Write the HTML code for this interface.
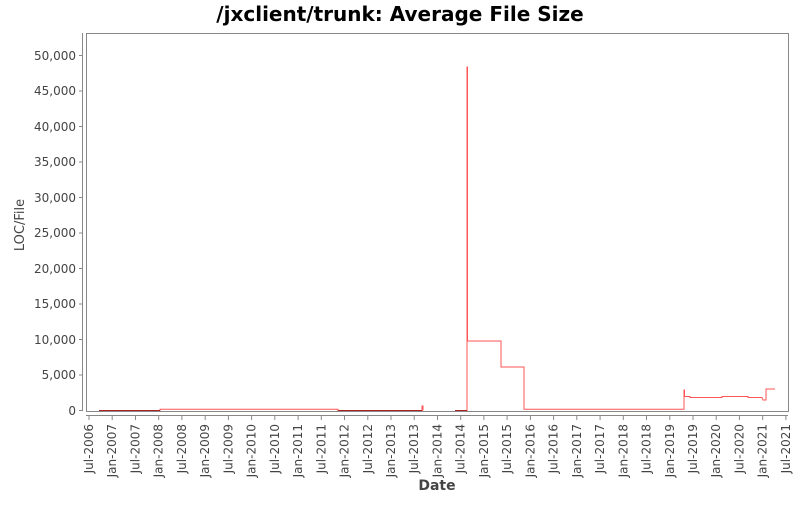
<!DOCTYPE html>
<html><head><style>body{margin:0;background:#fff}</style></head><body>
<svg width="800" height="500" xmlns="http://www.w3.org/2000/svg" font-family="DejaVu Sans, Liberation Sans, sans-serif">
<rect width="800" height="500" fill="#fff"/>
<text x="400" y="21" text-anchor="middle" font-size="20" font-weight="bold" fill="#000">/jxclient/trunk: Average File Size</text>
<rect x="86.5" y="33.5" width="702" height="378" fill="#fff" stroke="#888"/>
<line x1="82.5" y1="33" x2="82.5" y2="411" stroke="#888"/>
<line x1="86" y1="415.5" x2="788" y2="415.5" stroke="#888"/>
<g font-size="12" fill="#444" text-anchor="end">
<text x="76" y="60">50,000</text><text x="76" y="95">45,000</text><text x="76" y="131">40,000</text>
<text x="76" y="166">35,000</text><text x="76" y="202">30,000</text><text x="76" y="237">25,000</text>
<text x="76" y="273">20,000</text><text x="76" y="308">15,000</text><text x="76" y="344">10,000</text>
<text x="76" y="379">5,000</text><text x="76" y="415">0</text>
</g>
<g stroke="#888">
<line x1="79" x2="82" y1="55.5" y2="55.5"/><line x1="79" x2="82" y1="91" y2="91"/><line x1="79" x2="82" y1="126.5" y2="126.5"/>
<line x1="79" x2="82" y1="162" y2="162"/><line x1="79" x2="82" y1="197.5" y2="197.5"/><line x1="79" x2="82" y1="233" y2="233"/>
<line x1="79" x2="82" y1="268.5" y2="268.5"/><line x1="79" x2="82" y1="304" y2="304"/><line x1="79" x2="82" y1="339.5" y2="339.5"/>
<line x1="79" x2="82" y1="375" y2="375"/><line x1="79" x2="82" y1="410.5" y2="410.5"/>
</g>
<text transform="translate(24,225) rotate(-90)" text-anchor="middle" font-size="13" fill="#444">LOC/File</text>
<text x="437" y="490" text-anchor="middle" font-size="14" font-weight="bold" fill="#444">Date</text>
<g stroke="#888">
<line x1="89" x2="89" y1="416" y2="420"/><line x1="112.2" x2="112.2" y1="416" y2="420"/><line x1="135.5" x2="135.5" y1="416" y2="420"/><line x1="158.7" x2="158.7" y1="416" y2="420"/><line x1="181.9" x2="181.9" y1="416" y2="420"/><line x1="205.2" x2="205.2" y1="416" y2="420"/><line x1="228.4" x2="228.4" y1="416" y2="420"/><line x1="251.6" x2="251.6" y1="416" y2="420"/><line x1="274.8" x2="274.8" y1="416" y2="420"/><line x1="298.1" x2="298.1" y1="416" y2="420"/><line x1="321.3" x2="321.3" y1="416" y2="420"/><line x1="344.5" x2="344.5" y1="416" y2="420"/><line x1="367.8" x2="367.8" y1="416" y2="420"/><line x1="391" x2="391" y1="416" y2="420"/><line x1="414.2" x2="414.2" y1="416" y2="420"/><line x1="437.5" x2="437.5" y1="416" y2="420"/><line x1="460.7" x2="460.7" y1="416" y2="420"/><line x1="483.9" x2="483.9" y1="416" y2="420"/><line x1="507.1" x2="507.1" y1="416" y2="420"/><line x1="530.4" x2="530.4" y1="416" y2="420"/><line x1="553.6" x2="553.6" y1="416" y2="420"/><line x1="576.8" x2="576.8" y1="416" y2="420"/><line x1="600.1" x2="600.1" y1="416" y2="420"/><line x1="623.3" x2="623.3" y1="416" y2="420"/><line x1="646.5" x2="646.5" y1="416" y2="420"/><line x1="669.8" x2="669.8" y1="416" y2="420"/><line x1="693" x2="693" y1="416" y2="420"/><line x1="716.2" x2="716.2" y1="416" y2="420"/><line x1="739.4" x2="739.4" y1="416" y2="420"/><line x1="762.7" x2="762.7" y1="416" y2="420"/><line x1="785.9" x2="785.9" y1="416" y2="420"/>
</g>
<g font-size="12" fill="#444" text-anchor="end">
<text transform="translate(93,424) rotate(-90)">Jul-2006</text>
<text transform="translate(116.2,424) rotate(-90)">Jan-2007</text>
<text transform="translate(139.5,424) rotate(-90)">Jul-2007</text>
<text transform="translate(162.7,424) rotate(-90)">Jan-2008</text>
<text transform="translate(185.9,424) rotate(-90)">Jul-2008</text>
<text transform="translate(209.2,424) rotate(-90)">Jan-2009</text>
<text transform="translate(232.4,424) rotate(-90)">Jul-2009</text>
<text transform="translate(255.6,424) rotate(-90)">Jan-2010</text>
<text transform="translate(278.8,424) rotate(-90)">Jul-2010</text>
<text transform="translate(302.1,424) rotate(-90)">Jan-2011</text>
<text transform="translate(325.3,424) rotate(-90)">Jul-2011</text>
<text transform="translate(348.5,424) rotate(-90)">Jan-2012</text>
<text transform="translate(371.8,424) rotate(-90)">Jul-2012</text>
<text transform="translate(395,424) rotate(-90)">Jan-2013</text>
<text transform="translate(418.2,424) rotate(-90)">Jul-2013</text>
<text transform="translate(441.5,424) rotate(-90)">Jan-2014</text>
<text transform="translate(464.7,424) rotate(-90)">Jul-2014</text>
<text transform="translate(487.9,424) rotate(-90)">Jan-2015</text>
<text transform="translate(511.1,424) rotate(-90)">Jul-2015</text>
<text transform="translate(534.4,424) rotate(-90)">Jan-2016</text>
<text transform="translate(557.6,424) rotate(-90)">Jul-2016</text>
<text transform="translate(580.8,424) rotate(-90)">Jan-2017</text>
<text transform="translate(604.1,424) rotate(-90)">Jul-2017</text>
<text transform="translate(627.3,424) rotate(-90)">Jan-2018</text>
<text transform="translate(650.5,424) rotate(-90)">Jul-2018</text>
<text transform="translate(673.8,424) rotate(-90)">Jan-2019</text>
<text transform="translate(697,424) rotate(-90)">Jul-2019</text>
<text transform="translate(720.2,424) rotate(-90)">Jan-2020</text>
<text transform="translate(743.4,424) rotate(-90)">Jul-2020</text>
<text transform="translate(766.7,424) rotate(-90)">Jan-2021</text>
<text transform="translate(789.9,424) rotate(-90)">Jul-2021</text>
</g>
<polyline fill="none" stroke="#f55" stroke-width="1" points="99,410.5 160,410.5 160,409.3 338,409.3 338,410.5 422,410.5 422,406 423,406 423,410.5"/>
<polyline fill="none" stroke="#f55" stroke-width="1" points="455,410.5 467,410.5 467,67 467.5,67 467.5,341 501,341 501,367 524,367 524,409.2 684,409.2 684,390 684.5,390 684.5,396.5 690,396.5 690,397.5 722,397.5 722,396.5 748,396.5 748,397.5 762,397.5 763,400 766,400 766,389 775,389"/>
<line x1="99" y1="410.5" x2="160" y2="410.5" stroke="#a22"/>
<line x1="338" y1="410.5" x2="422" y2="410.5" stroke="#a22"/>
<line x1="455" y1="410.5" x2="467" y2="410.5" stroke="#a22"/>
</svg>
</body></html>
